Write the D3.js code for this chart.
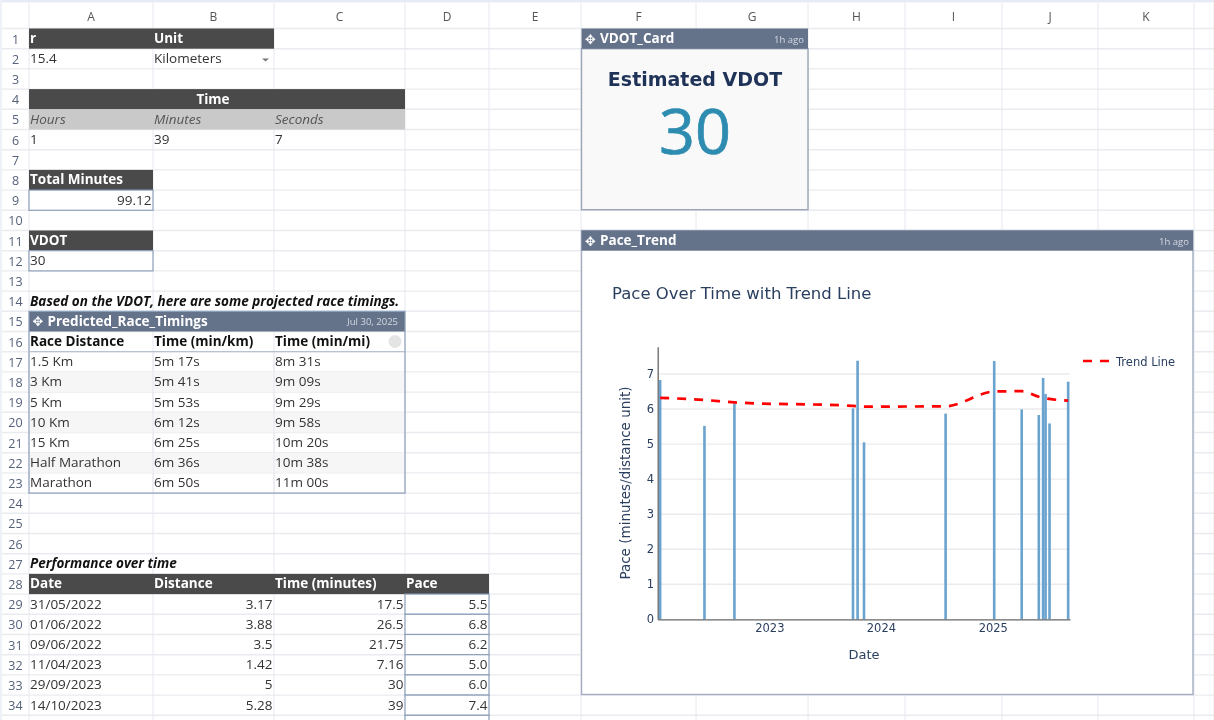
<!DOCTYPE html>
<html>

<head>
    <meta charset="utf-8">
    <script src="https://cdn.jsdelivr.net/npm/d3@7"></script>
    <title>VDOT sheet</title>
    <style>
        html, body { margin: 0; padding: 0; background: #fff; overflow: hidden; }
        svg { display: block; filter: blur(0.3px); }
        text { font-family: "Open Sans", sans-serif; }
        .plot text { font-family: "DejaVu Sans", sans-serif; }
    </style>
</head>

<body>
    <div id="sheet"></div>
    <script>
        // chart data
        var paceDates = ["2022-01-06", "2022-05-31", "2022-09-06", "2023-09-29", "2023-10-14", "2023-11-04", "2024-07-28",
            "2025-01-03", "2025-04-03", "2025-05-29", "2025-06-12", "2025-06-20", "2025-07-03", "2025-09-02"];
        var paceValues = [6.83, 5.52, 6.16, 6.02, 7.38, 5.05, 5.87, 7.37, 5.99, 5.83, 6.89, 6.43, 5.59, 6.78];
        var trendValues = [6.32, 6.26, 6.19, 6.09, 6.08, 6.07, 6.08, 6.5, 6.51, 6.35, 6.32, 6.31, 6.29, 6.24];
        var yTicks = [0, 1, 2, 3, 4, 5, 6, 7];
        var xTickYears = ["2023-01-01", "2024-01-01", "2025-01-01"];

        // sheet data
        var colNames = ["A", "B", "C", "D", "E", "F", "G", "H", "I", "J", "K"];
        var raceNames = ["1.5 Km", "3 Km", "5 Km", "10 Km", "15 Km", "Half Marathon", "Marathon"];
        var raceKm = ["5m 17s", "5m 41s", "5m 53s", "6m 12s", "6m 25s", "6m 36s", "6m 50s"];
        var raceMi = ["8m 31s", "9m 09s", "9m 29s", "9m 58s", "10m 20s", "10m 38s", "11m 00s"];
        var perfDates = ["31/05/2022", "01/06/2022", "09/06/2022", "11/04/2023", "29/09/2023", "14/10/2023"];
        var perfDistance = ["3.17", "3.88", "3.5", "1.42", "5", "5.28"];
        var perfTime = ["17.5", "26.5", "21.75", "7.16", "30", "39"];
        var perfPace = ["5.5", "6.8", "6.2", "5.0", "6.0", "7.4"];

        var w = 1214, h = 720;
        var colX = [29, 153, 274, 405, 489, 581, 696, 808, 905, 1002, 1098, 1194, 1214];
        var rowH = 20.2, rowTop = 28.5;
        var dark = "#4a4a4a", slate = "#64728a", blueBorder = "#8d9fba";

        var svg = d3.select("#sheet").append("svg").attr("width", w).attr("height", h);

        var rowY = function (r) { return rowTop + (r - 1) * rowH; };

        var text = function (x, y, str, o) {
            o = o || {};
            return svg.append("text").attr("x", x).attr("y", y).text(str)
                .attr("fill", o.fill || "#333")
                .attr("font-size", o.size || 13.5)
                .attr("font-weight", o.bold ? 700 : 400)
                .attr("font-style", o.italic ? "italic" : "normal")
                .attr("text-anchor", o.anchor || "start");
        };
        var box = function (x, y, bw, bh, fill, stroke, sw) {
            return svg.append("rect").attr("x", x).attr("y", y).attr("width", bw).attr("height", bh)
                .attr("fill", fill || "none").attr("stroke", stroke || "none").attr("stroke-width", sw || 1);
        };
        // c = column index (0 is A), r = sheet row
        var cell = function (c, r, str, o) {
            o = o || {};
            var right = o.anchor == "end";
            var x = right ? colX[c + 1] - 1.5 : colX[c] + 1;
            return text(x, rowY(r) + 14.4, str, o);
        };
        var fillRange = function (c1, c2, r, fill) {
            box(colX[c1], rowY(r), colX[c2 + 1] - colX[c1], rowH, fill);
        };

        // grid
        d3.range(0, 36).forEach(function (i) {
            svg.append("line").attr("x1", 0).attr("x2", w).attr("y1", rowTop + i * rowH).attr("y2", rowTop + i * rowH)
                .attr("stroke", "#e9ebf0").attr("stroke-width", 1.4);
        });
        colX.forEach(function (x) {
            svg.append("line").attr("x1", x).attr("x2", x).attr("y1", 3).attr("y2", h).attr("stroke", "#e6e8ee");
        });
        box(0, 0, w, 2.5, "#e6ecf5");
        box(0, 0, 2, h, "#eef2f8");

        // column and row headers
        colNames.forEach(function (d, i) {
            text((colX[i] + colX[i + 1]) / 2, 20.5, d, { fill: "#555", size: 12, anchor: "middle" });
        });
        d3.range(1, 35).forEach(function (r) {
            text(15.5, rowY(r) + 15, r, { fill: "#55617a", size: 12.5, anchor: "middle" });
        });

        // r / unit block
        fillRange(0, 1, 1, dark);
        cell(0, 1, "r", { fill: "#fff", bold: true });
        cell(1, 1, "Unit", { fill: "#fff", bold: true });
        cell(0, 2, "15.4");
        cell(1, 2, "Kilometers");
        svg.append("path").attr("d", d3.line()([[262, 58.5], [269, 58.5], [265.5, 61.5]]) + "Z").attr("fill", "#777");

        // time block
        fillRange(0, 2, 4, dark);
        text(213, rowY(4) + 14.4, "Time", { fill: "#fff", bold: true, anchor: "middle" });
        fillRange(0, 2, 5, "#c9c9c9");
        cell(0, 5, "Hours", { italic: true, fill: "#555" });
        cell(1, 5, "Minutes", { italic: true, fill: "#555" });
        cell(2, 5, "Seconds", { italic: true, fill: "#555" });
        cell(0, 6, "1");
        cell(1, 6, "39");
        cell(2, 6, "7");

        fillRange(0, 0, 8, dark);
        cell(0, 8, "Total Minutes", { fill: "#fff", bold: true });
        box(colX[0], rowY(9), colX[1] - colX[0], rowH, "#fff", blueBorder, 1.2);
        cell(0, 9, "99.12", { anchor: "end" });

        fillRange(0, 0, 11, dark);
        cell(0, 11, "VDOT", { fill: "#fff", bold: true });
        box(colX[0], rowY(12), colX[1] - colX[0], rowH, "#fff", blueBorder, 1.2);
        cell(0, 12, "30");

        cell(0, 14, "Based on the VDOT, here are some projected race timings.", { bold: true, italic: true, fill: "#111" });

        // panel title bar with the move glyph
        var panelBar = function (x, y, bw, name, stamp, stampPad) {
            box(x, y, bw, rowH, slate);
            text(x + 3.5, y + 15, "\u2725", { fill: "#fff", size: 13 }).style("font-family", "DejaVu Sans");
            text(x + 18.5, y + 14.8, name, { fill: "#fff", bold: true });
            text(x + bw - stampPad, y + 14, stamp, { fill: "#d5dae3", size: 9.5, anchor: "end" });
        };

        // predicted timings table
        panelBar(colX[0], rowY(15), colX[3] - colX[0], "Predicted_Race_Timings", "Jul 30, 2025", 7);
        cell(0, 16, "Race Distance", { bold: true, fill: "#111" });
        cell(1, 16, "Time (min/km)", { bold: true, fill: "#111" });
        cell(2, 16, "Time (min/mi)", { bold: true, fill: "#111" });
        svg.append("circle").attr("cx", 395).attr("cy", rowY(16) + 10).attr("r", 6.5).attr("fill", "#e4e4e4");
        raceNames.forEach(function (d, i) {
            var r = 17 + i;
            if (i % 2 == 1) fillRange(0, 2, r, "#f6f6f6");
            [colX[1], colX[2]].forEach(function (x) {
                svg.append("line").attr("x1", x).attr("x2", x).attr("y1", rowY(r)).attr("y2", rowY(r + 1)).attr("stroke", "#e6e8ee");
            });
            cell(0, r, d);
            cell(1, r, raceKm[i]);
            cell(2, r, raceMi[i]);
        });
        box(colX[0], rowY(15), colX[3] - colX[0], rowY(24) - rowY(15), "none", blueBorder, 1.2);
        svg.append("line").attr("x1", colX[0]).attr("x2", colX[3]).attr("y1", rowY(17)).attr("y2", rowY(17)).attr("stroke", "#aeb9cb");

        // performance table
        cell(0, 27, "Performance over time", { bold: true, italic: true, fill: "#111" });
        fillRange(0, 3, 28, dark);
        cell(0, 28, "Date", { fill: "#fff", bold: true });
        cell(1, 28, "Distance", { fill: "#fff", bold: true });
        cell(2, 28, "Time (minutes)", { fill: "#fff", bold: true });
        cell(3, 28, "Pace", { fill: "#fff", bold: true });
        perfDates.forEach(function (d, i) {
            var r = 29 + i;
            cell(0, r, d);
            cell(1, r, perfDistance[i], { anchor: "end" });
            cell(2, r, perfTime[i], { anchor: "end" });
            box(colX[3], rowY(r), colX[4] - colX[3], rowH, "#fff", blueBorder, 1.2);
            cell(3, r, perfPace[i], { anchor: "end" });
        });
        box(colX[3], rowY(35), colX[4] - colX[3], rowH, "#fff", blueBorder, 1.2);

        // VDOT card
        box(581.5, rowY(2), 226.5, 161, "#f9f9f9", "#9aa5b8", 1.4);
        panelBar(581.5, rowTop, 226.5, "VDOT_Card", "1h ago", 4);
        text(695, 86, "Estimated VDOT", { fill: "#1f3358", size: 19, bold: true, anchor: "middle" }).style("font-family", "DejaVu Sans");
        text(695, 154, "30", { fill: "#2e8cb0", size: 63, anchor: "middle" }).attr("stroke", "#2e8cb0").attr("stroke-width", 0.7);

        // Pace trend card
        box(581.5, rowY(11), 611.5, 464, "#fff", "#a3adbf", 1.4);
        panelBar(581.5, rowY(11), 611.5, "Pace_Trend", "1h ago", 4);

        var plot = svg.append("g").attr("class", "plot");
        var plotColor = "#2a3f5f";
        var parseDay = d3.utcParse("%Y-%m-%d");
        var days = paceDates.map(parseDay);

        var x = d3.scaleUtc().domain([parseDay("2021-12-29"), parseDay("2025-09-08")]).range([657.7, 1070]);
        var y = d3.scaleLinear().domain([0, 7.78]).range([619.3, 346.7]);

        plot.append("g").selectAll("line").data(yTicks.slice(1)).enter().append("line")
            .attr("x1", x.range()[0]).attr("x2", x.range()[1])
            .attr("y1", function (d) { return y(d); }).attr("y2", function (d) { return y(d); })
            .attr("stroke", "#ebebef").attr("stroke-width", 1.4);

        plot.append("g").selectAll("rect").data(paceValues).enter().append("rect")
            .attr("x", function (d, i) { return x(days[i]) - 1.3; })
            .attr("y", function (d) { return y(d); })
            .attr("width", 2.6)
            .attr("height", function (d) { return y(0) - y(d); })
            .attr("fill", "#6ba3cf");

        var trend = d3.line()
            .x(function (d, i) { return x(days[i]); })
            .y(function (d) { return y(d); })
            .curve(d3.curveMonotoneX);
        plot.append("path").attr("d", trend(trendValues))
            .attr("fill", "none").attr("stroke", "#f00").attr("stroke-width", 2.7).attr("stroke-dasharray", "9,8");

        var yAxis = d3.axisLeft(y).tickValues(yTicks).tickSize(0).tickPadding(3.5).tickFormat(d3.format("d"));
        var xAxis = d3.axisBottom(x).tickValues(xTickYears.map(parseDay)).tickSize(0).tickPadding(5).tickFormat(d3.utcFormat("%Y"));
        var yG = plot.append("g").attr("transform", "translate(" + x.range()[0] + ",0)").call(yAxis);
        var xG = plot.append("g").attr("transform", "translate(0," + y.range()[0] + ")").call(xAxis);
        [yG, xG].forEach(function (g) {
            g.selectAll("text").attr("fill", plotColor).attr("font-size", 11.5).style("font-family", "DejaVu Sans");
            g.select(".domain").attr("stroke", "#666").attr("stroke-width", 1.3);
        });
        xG.selectAll("text").attr("dx", -0.8);

        plot.append("text").attr("x", 612).attr("y", 298.5).text("Pace Over Time with Trend Line")
            .attr("fill", plotColor).attr("font-size", 16.5);
        plot.append("text").attr("x", 864).attr("y", 659).text("Date")
            .attr("fill", plotColor).attr("font-size", 13).attr("text-anchor", "middle");
        plot.append("text").attr("transform", "translate(629.5,483) rotate(-90)").text("Pace (minutes/distance unit)")
            .attr("fill", plotColor).attr("font-size", 13.5).attr("text-anchor", "middle");

        // legend
        plot.append("line").attr("x1", 1083).attr("x2", 1111).attr("y1", 361).attr("y2", 361)
            .attr("stroke", "#f00").attr("stroke-width", 2.7).attr("stroke-dasharray", "9,8");
        plot.append("text").attr("x", 1116).attr("y", 366).text("Trend Line")
            .attr("fill", plotColor).attr("font-size", 11.5);
    </script>
</body>

</html>
